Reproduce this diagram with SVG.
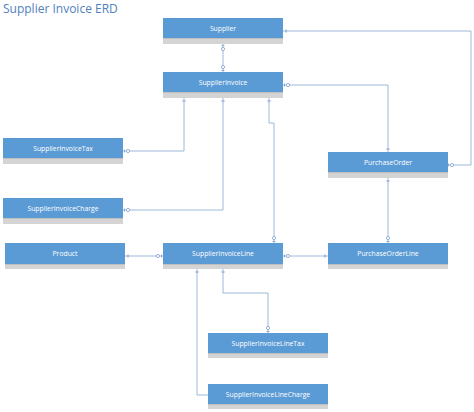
<svg xmlns="http://www.w3.org/2000/svg" width="474" height="412" viewBox="0 0 474 412">
<style>
.box{fill:#5b9bd5}
.band{fill:#d4d4d4}
.bandl{fill:#bfbfbf}
.lbl{font-family:"Open Sans","Noto Sans",sans-serif;font-size:6.8px;fill:#ffffff;text-anchor:middle}
.title{font-family:"Open Sans","Noto Sans",sans-serif;font-size:12px;fill:#4f81bd}
.c{fill:none;stroke:#9db8d9;stroke-width:1}
</style>
<defs>
<marker id="one" markerUnits="userSpaceOnUse" markerWidth="10" markerHeight="10" refX="8" refY="5" orient="auto-start-reverse" overflow="visible">
<path d="M5,3.4V6.6" stroke="#8aa9cf" stroke-width="1.2" fill="none"/>
</marker>
<marker id="zero" markerUnits="userSpaceOnUse" markerWidth="10" markerHeight="10" refX="8" refY="5" orient="auto-start-reverse" overflow="visible">
<circle cx="3" cy="5" r="1.6" fill="#ffffff" stroke="#8aa9cf" stroke-width="0.9"/>
<path d="M6.5,3.6V6.4" stroke="#8aa9cf" stroke-width="1" fill="none"/>
</marker>
</defs>
<rect width="474" height="412" fill="#ffffff"/>
<text class="title" x="3" y="13">Supplier Invoice ERD</text>
<g id="connectors">
<path class="c" d="M223,44V72" marker-start="url(#zero)" marker-end="url(#zero)"/>
<path class="c" d="M283,31H471V165H447" marker-start="url(#one)" marker-end="url(#zero)"/>
<path class="c" d="M283,85H388V152" marker-start="url(#zero)" marker-end="url(#one)"/>
<path class="c" d="M184,98V151H123" marker-start="url(#one)" marker-end="url(#zero)"/>
<path class="c" d="M223,98V210H123" marker-start="url(#one)" marker-end="url(#zero)"/>
<path class="c" d="M269,98V123H274V243" marker-start="url(#one)" marker-end="url(#zero)"/>
<path class="c" d="M388,178V243" marker-start="url(#one)" marker-end="url(#zero)"/>
<path class="c" d="M125,256H163" marker-start="url(#one)" marker-end="url(#zero)"/>
<path class="c" d="M283,256H328" marker-start="url(#zero)" marker-end="url(#one)"/>
<path class="c" d="M223,269V293H268V333" marker-start="url(#one)" marker-end="url(#zero)"/>
<path class="c" d="M197,269V395H208" marker-start="url(#one)"/>
</g>
<g id="Supplier"><rect class="band" x="163" y="38" width="120" height="6"/><rect class="bandl" x="163" y="38" width="120" height="1"/><rect class="box" x="163" y="18" width="120" height="20"/><text class="lbl" x="223" y="30.5">Supplier</text></g>
<g id="SupplierInvoice"><rect class="band" x="163" y="92" width="120" height="6"/><rect class="bandl" x="163" y="92" width="120" height="1"/><rect class="box" x="163" y="72" width="120" height="20"/><text class="lbl" x="223" y="84.5">SupplierInvoice</text></g>
<g id="SupplierInvoiceTax"><rect class="band" x="3" y="158" width="120" height="6"/><rect class="bandl" x="3" y="158" width="120" height="1"/><rect class="box" x="3" y="138" width="120" height="20"/><text class="lbl" x="63" y="150.5">SupplierInvoiceTax</text></g>
<g id="SupplierInvoiceCharge"><rect class="band" x="3" y="218" width="120" height="6"/><rect class="bandl" x="3" y="218" width="120" height="1"/><rect class="box" x="3" y="198" width="120" height="20"/><text class="lbl" x="63" y="210.5">SupplierInvoiceCharge</text></g>
<g id="PurchaseOrder"><rect class="band" x="328" y="172" width="120" height="6"/><rect class="bandl" x="328" y="172" width="120" height="1"/><rect class="box" x="328" y="152" width="120" height="20"/><text class="lbl" x="388" y="164.5">PurchaseOrder</text></g>
<g id="Product"><rect class="band" x="5" y="264" width="120" height="5"/><rect class="bandl" x="5" y="264" width="120" height="1"/><rect class="box" x="5" y="243" width="120" height="21"/><text class="lbl" x="65" y="256">Product</text></g>
<g id="SupplierInvoiceLine"><rect class="band" x="163" y="264" width="120" height="5"/><rect class="bandl" x="163" y="264" width="120" height="1"/><rect class="box" x="163" y="243" width="120" height="21"/><text class="lbl" x="223" y="256">SupplierInvoiceLine</text></g>
<g id="PurchaseOrderLine"><rect class="band" x="328" y="264" width="120" height="5"/><rect class="bandl" x="328" y="264" width="120" height="1"/><rect class="box" x="328" y="243" width="120" height="21"/><text class="lbl" x="388" y="256">PurchaseOrderLine</text></g>
<g id="SupplierInvoiceLineTax"><rect class="band" x="208" y="353" width="120" height="5"/><rect class="bandl" x="208" y="353" width="120" height="1"/><rect class="box" x="208" y="333" width="120" height="20"/><text class="lbl" x="268" y="345.5">SupplierInvoiceLineTax</text></g>
<g id="SupplierInvoiceLineCharge"><rect class="band" x="208" y="404" width="120" height="5"/><rect class="bandl" x="208" y="404" width="120" height="1"/><rect class="box" x="208" y="384" width="120" height="20"/><text class="lbl" x="268" y="396.5">SupplierInvoiceLineCharge</text></g>
</svg>
